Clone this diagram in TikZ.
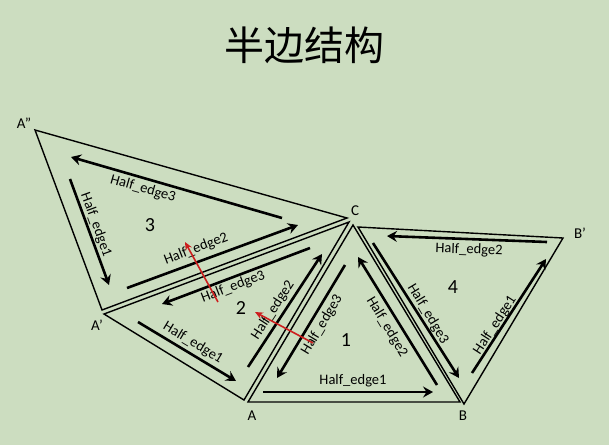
\documentclass[tikz,border=0pt]{standalone}
\usepackage{fontspec}
\setmainfont{Carlito}
\newfontfamily\cjk{Noto Sans CJK SC}
\usetikzlibrary{arrows.meta}
\definecolor{bg}{RGB}{204,221,192}
\definecolor{redarr}{RGB}{205,30,30}
\begin{document}
\begin{tikzpicture}[x=1pt,y=-1pt,
 tri/.style={draw=black,line width=1.4pt,line join=miter},
 he/.style={draw=black,line width=2.6pt,-{Stealth[length=10pt,width=11pt,inset=3.5pt]}},
 hel/.style={font=\fontsize{14.5}{14.5}\selectfont,inner sep=0pt},
 num/.style={font=\fontsize{20}{20}\selectfont,inner sep=0pt},
 vl/.style={font=\fontsize{15}{15}\selectfont,inner sep=0pt},
 twin/.style={draw=redarr,line width=1.6pt,-{Stealth[length=8pt,width=7pt]}}]
\fill[bg] (0,0) rectangle (609,445);
\useasboundingbox (0,0) rectangle (609,445);
% title
\node[font=\cjk\fontsize{40}{40}\selectfont] (title) at (304,45) {半边结构};
% triangle vertices
\coordinate (A1) at (248,402); \coordinate (B1) at (460,402); \coordinate (C1) at (353,225);
\coordinate (A2) at (244,400); \coordinate (P2) at (104,314); \coordinate (C2) at (349,222);
\coordinate (Q3) at (35,130);  \coordinate (P3) at (102,310); \coordinate (C3) at (347,218);
\coordinate (C4) at (358,227); \coordinate (R4) at (563,238); \coordinate (B4) at (464,404);
\draw[tri] (A1) -- (B1) -- (C1) -- cycle;
\draw[tri] (A2) -- (P2) -- (C2) -- cycle;
\draw[tri] (Q3) -- (P3) -- (C3) -- cycle;
\draw[tri] (C4) -- (R4) -- (B4) -- cycle;
% vertex labels
\node[vl] (lAqq) at (24,123) {A”};
\node[vl] (lAq) at (97,325) {A’};
\node[vl] (lA) at (252,416) {A};
\node[vl] (lB) at (463,416) {B};
\node[vl] (lC) at (355,211) {C};
\node[vl] (lBq) at (580,233) {B’};
% face numbers
\node[num] (n1) at (346,340) {1};
\node[num] (n2) at (241,308) {2};
\node[num] (n3) at (150,225) {3};
\node[num] (n4) at (453,287) {4};
% half edges, triangle 1
\coordinate (t1a) at (263,392); \coordinate (t1b) at (433,392);
\coordinate (t1c) at (437,385); \coordinate (t1d) at (358,257);
\coordinate (t1e) at (345,265); \coordinate (t1f) at (277,378);
\draw[he] (t1a) -- (t1b);
\draw[he] (t1c) -- (t1d);
\draw[he] (t1e) -- (t1f);
\node[hel] (l11) at (353,381) {Half\_edge1};
\node[hel,rotate=-59] (l12) at (387,327) {Half\_edge2};
\node[hel,rotate=59] (l13) at (322,325) {Half\_edge3};
% triangle 2
\coordinate (t2a) at (138,322); \coordinate (t2b) at (236,381);
\coordinate (t2c) at (248,367); \coordinate (t2d) at (322,254);
\coordinate (t2e) at (310,248); \coordinate (t2f) at (162,304);
\draw[he] (t2a) -- (t2b);
\draw[he] (t2c) -- (t2d);
\draw[he] (t2e) -- (t2f);
\node[hel,rotate=-31] (l21) at (193,343) {Half\_edge1};
\node[hel,rotate=57] (l22) at (273,310) {Half\_edge2};
\node[hel,rotate=21] (l23) at (233,287) {Half\_edge3};
% triangle 3
\coordinate (t3a) at (70,179); \coordinate (t3b) at (109,285);
\coordinate (t3c) at (127,288); \coordinate (t3d) at (298,225);
\coordinate (t3e) at (282,218); \coordinate (t3f) at (71,157);
\draw[he] (t3a) -- (t3b);
\draw[he] (t3c) -- (t3d);
\draw[he] (t3e) -- (t3f);
\node[hel,rotate=-70] (l31) at (96,225) {Half\_edge1};
\node[hel,rotate=21] (l32) at (196,249) {Half\_edge2};
\node[hel,rotate=-16] (l33) at (143,189) {Half\_edge3};
% triangle 4
\coordinate (t4a) at (472,373); \coordinate (t4b) at (546,259);
\coordinate (t4c) at (547,242); \coordinate (t4d) at (387,236);
\coordinate (t4e) at (373,243); \coordinate (t4f) at (459,378);
\draw[he] (t4a) -- (t4b);
\draw[he] (t4c) -- (t4d);
\draw[he] (t4e) -- (t4f);
\node[hel,rotate=57] (l41) at (495,325) {Half\_edge1};
\node[hel,rotate=-2] (l42) at (469,250) {Half\_edge2};
\node[hel,rotate=-59] (l43) at (428,314) {Half\_edge3};
% twin pointers
\coordinate (r1a) at (218,302); \coordinate (r1b) at (185,242);
\coordinate (r2a) at (313,343); \coordinate (r2b) at (255,312);
\draw[twin] (r1a) -- (r1b);
\draw[twin] (r2a) -- (r2b);
\end{tikzpicture}
\end{document}
